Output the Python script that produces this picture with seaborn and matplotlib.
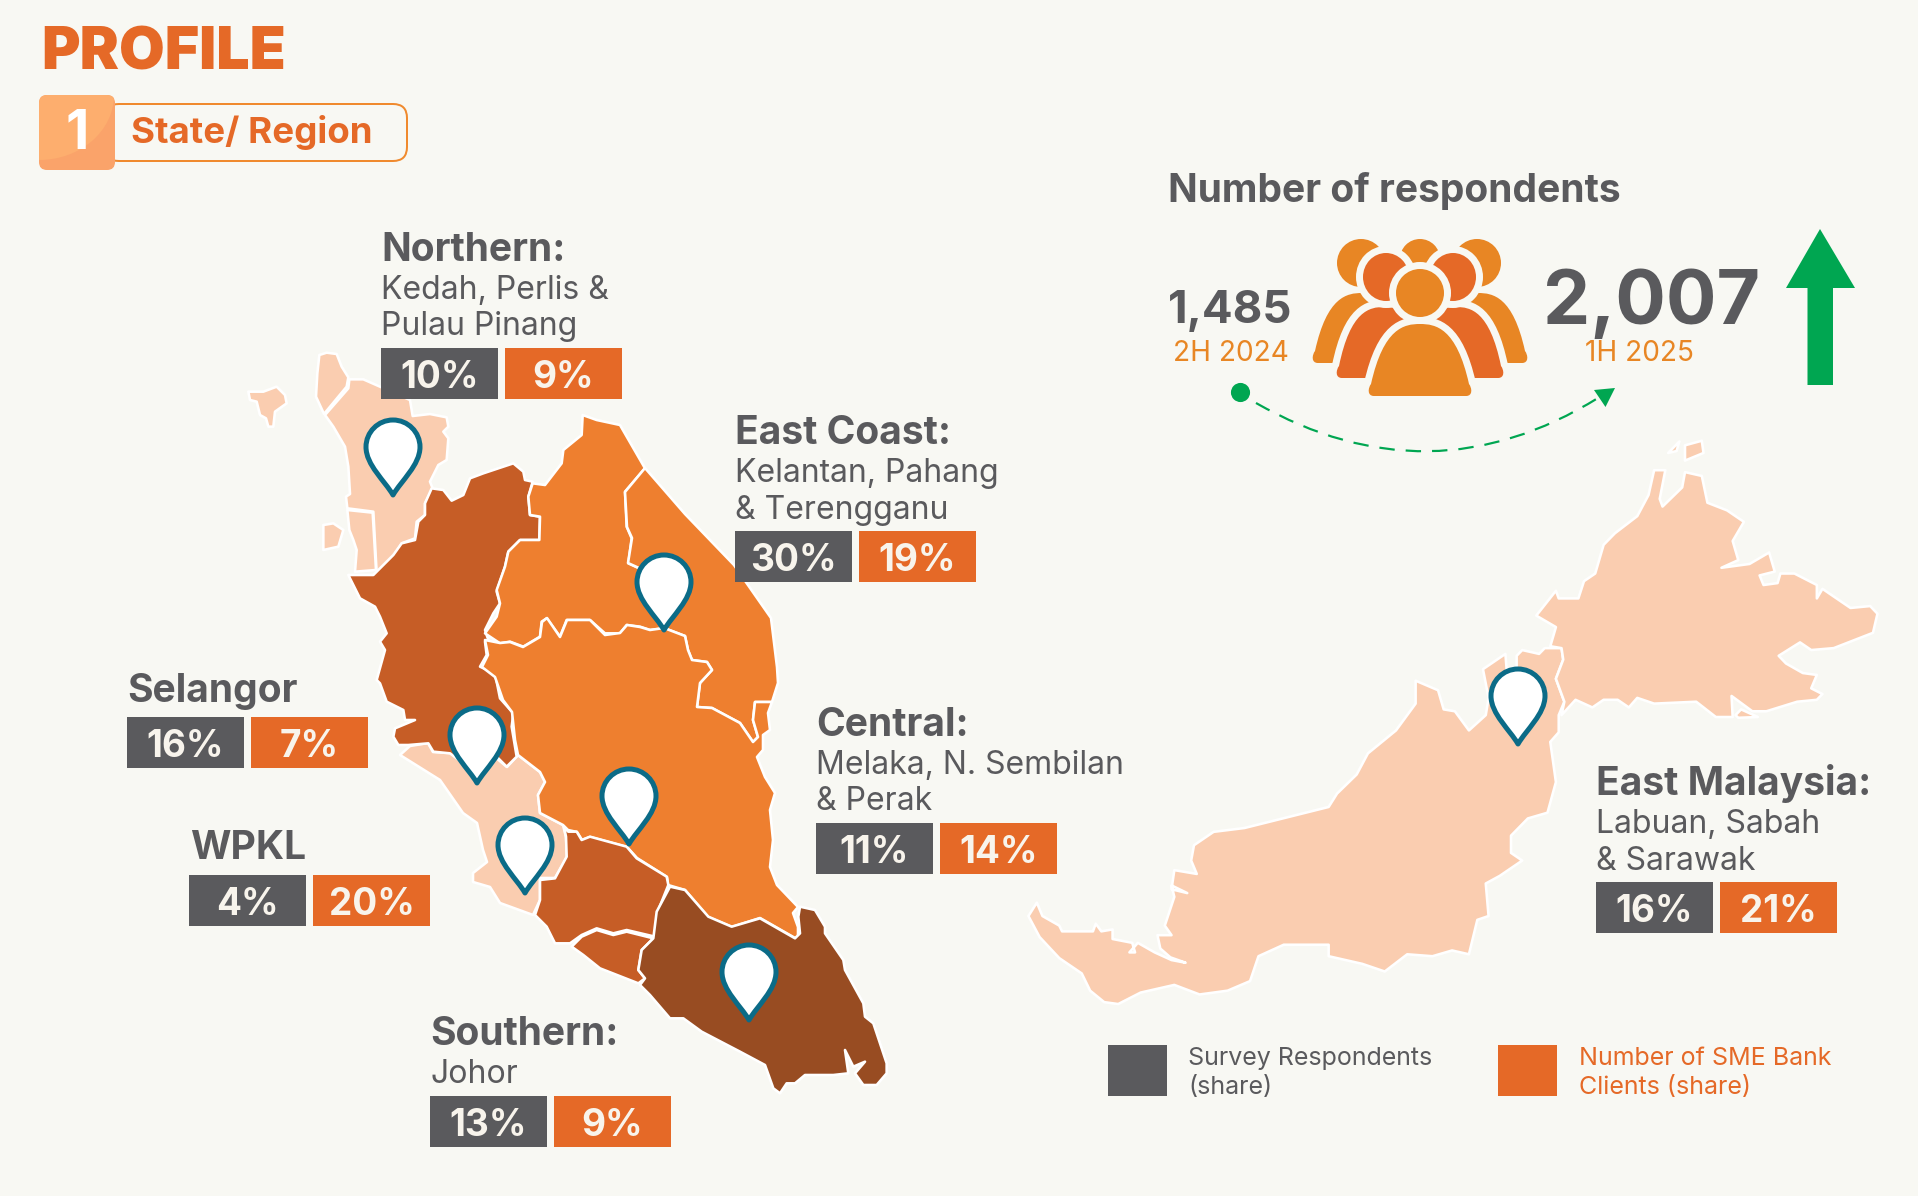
import numpy as np
import matplotlib
matplotlib.use("Agg")
import matplotlib.pyplot as plt
from matplotlib.patches import Polygon, PathPatch, FancyBboxPatch, Ellipse
from matplotlib.path import Path
import seaborn as sns

# shares read from the tiles
regions = ["Northern:", "East Coast:", "Selangor", "WPKL", "Central:", "Southern:", "East Malaysia:"]
details = [["Kedah, Perlis &", "Pulau Pinang"], ["Kelantan, Pahang", "& Terengganu"], [], [],
           ["Melaka, N. Sembilan", "& Perak"], ["Johor"], ["Labuan, Sabah", "& Sarawak"]]
survey_share = [10, 30, 16, 4, 11, 13, 16]
client_share = [9, 19, 7, 20, 14, 9, 21]
periods = ["2H 2024", "1H 2025"]
respondents = [1485, 2007]
legend_labels = [["Survey Respondents", "(share)"], ["Number of SME Bank", "Clients (share)"]]

BG = "#F8F8F3"
GRAY = "#5A5A5D"
ORANGE = "#E56927"
AMBER = "#E88624"
GREEN = "#00A651"
TEAL = "#0B6B87"
LIGHT = "#FACDB0"
EAST = "#EE7F2F"
MID = "#C65D26"
DARK = "#984C22"
FONT = "Inter"

sns.set_theme(style="white", rc={"figure.facecolor": BG, "axes.facecolor": BG})
plt.rcParams["font.family"] = [FONT, "DejaVu Sans"]

fig = plt.figure(figsize=(19.18, 11.96), dpi=100)
ax = fig.add_axes([0, 0, 1, 1])


def px(n):
    return n * 0.72


def z1(pts):
    return np.array(pts) / 3 + [230, 340]


def z2(pts):
    return np.array(pts) / 3 + [440, 640]


def z3(pts):
    return np.array(pts) / [1.782, 2.613] + [1020, 430]


def land(pts, color):
    ax.add_patch(Polygon(pts, closed=True, facecolor=color, edgecolor="white",
                         linewidth=px(2.6), joinstyle="round", zorder=2))


# northern
land(z1([(268,45),(290,38),(320,42),(335,80),(355,112),(350,140),(282,222),(258,170),(262,100)]), LIGHT)
land(z1([(358,118),(400,118),(450,140),(540,180),(548,228),(600,222),(650,232),(655,260),(640,275),(655,295),
         (650,360),(625,375),(600,425),(608,445),(585,490),(585,525),(560,545),(555,595),(515,610),(490,650),
         (440,700),(430,515),(352,505),(348,470),(360,462),(355,380),(345,320),(310,260),(285,225),(355,145)]), LIGHT)
land(z1([(352,510),(428,518),(438,690),(375,695),(380,630),(370,600),(358,570)]), LIGHT)
land(z1([(55,155),(100,155),(140,140),(165,165),(170,190),(135,215),(130,260),(115,260),(108,235),(90,225),(80,185),(60,180)]), LIGHT)
land(z1([(280,555),(310,550),(340,570),(325,620),(280,630)]), LIGHT)

# selangor + wpkl area
land([(410,746),(428,743),(433,752),(450,753),(495,757),(507,767),(518,755),(540,772),(545,782),(538,795),
      (540,813),(563,825),(566,837),(567,857),(555,878),(540,878),(540,900),(533,915),(500,903),(490,887),
      (473,882),(473,873),(487,862),(483,850),(477,823),(463,813),(440,780),(400,755)], LIGHT)

# perak
land(z1([(355,705),(430,705),(490,645),(515,610),(555,600),(565,545),(585,525),(585,490),(605,445),(640,450),
         (665,482),(700,465),(720,415),(760,400),(850,370),(880,395),(885,420),(908,425),(895,470),(900,525),
         (930,530),(928,600),(870,600),(835,635),(825,680),(800,755),(810,790),(790,820),(765,870),(775,900),
         (765,905),(770,945),(750,980),(795,1000),(810,1075),(850,1120),(845,1160),(860,1250),(830,1280),
         (800,1250),(700,1270),(660,1240),(610,1235),(595,1210),(535,1215),(505,1215),(490,1190),(495,1165),
         (555,1140),(525,1140),(520,1110),(470,1085),(450,1030),(440,1020),(465,930),(450,905),(470,880),
         (450,830),(435,800),(390,775)]), MID)

# kelantan, pahang, terengganu
land(z1([(908,430),(945,435),(995,370),(1000,330),(1055,285),(1058,225),(1100,240),(1170,255),(1245,385),
         (1185,455),(1190,560),(1205,595),(1195,670),(1260,700),(1275,780),(1302,865),(1260,870),(1230,860),
         (1190,855),(1170,880),(1125,880),(1080,840),(1050,840),(1010,840),(990,890),(950,835),(935,845),
         (930,890),(880,920),(840,905),(810,910),(765,880),(800,830),(810,790),(800,750),(825,680),(835,635),
         (870,600),(928,600),(930,530),(900,525),(895,470)]), EAST)
land([(645,468),(685,514),(734,565),(771,618),(777,667),(778,683),(772,702),(755,702),(753,720),(758,737),
      (753,742),(740,723),(712,708),(697,707),(700,683),(712,670),(707,662),(692,660),(688,650),(685,636),
      (664,628),(650,573),(628,563),(632,538),(627,527),(625,492)], EAST)
land([(485,640),(500,643),(510,642),(523,647),(540,637),(542,622),(547,618),(560,637),(567,620),(580,620),
      (590,620),(605,635),(620,633),(627,625),(640,627),(650,630),(664,628),(685,636),(688,650),(692,660),
      (707,662),(712,670),(700,683),(697,707),(712,708),(740,723),(753,742),(758,737),(753,720),(755,702),
      (772,702),(768,713),(770,730),(763,735),(763,750),(757,757),(765,777),(775,793),(770,810),(773,840),
      (770,867),(777,885),(798,907),(793,913),(798,927),(798,937),(795,938),(760,918),(732,927),(708,917),
      (685,890),(668,885),(667,877),(637,858),(627,847),(590,837),(582,840),(577,832),(568,830),(563,825),
      (540,813),(538,795),(545,782),(540,772),(518,755),(515,740),(512,712),(503,700),(495,677),(482,667),
      (488,655)], EAST)

# negeri sembilan, melaka, johor
land(z2([(372,560),(385,575),(410,575),(425,600),(450,590),(560,620),(590,655),(680,710),(685,735),(655,810),
         (645,890),(560,870),(520,880),(470,865),(425,885),(390,910),(345,910),(320,860),(285,825),(300,780),
         (300,720),(345,715),(380,650),(378,590)]), MID)
land(z2([(395,920),(425,890),(470,870),(520,885),(560,875),(640,895),(605,930),(595,990),(615,1015),(595,1030),
         (480,985),(430,945)]), MID)
land(z2([(690,740),(735,750),(805,830),(875,860),(960,835),(1065,895),(1080,880),(1075,830),(1080,800),(1125,810),
         (1155,860),(1155,880),(1210,960),(1215,990),(1270,1090),(1275,1130),(1300,1150),(1340,1270),(1340,1300),
         (1310,1335),(1270,1335),(1245,1300),(1275,1265),(1240,1280),(1215,1230),(1225,1300),(1180,1305),(1095,1305),
         (1065,1330),(1040,1330),(1020,1360),(1000,1345),(975,1275),(900,1235),(785,1175),(730,1135),(690,1135),
         (630,1065),(600,1035),(615,1015),(595,990),(605,930),(640,895),(650,815)]), DARK)

# sarawak, sabah and the small islands
land(z3([(15,1270),(30,1235),(40,1270),(70,1295),(75,1310),(130,1310),(135,1290),(145,1310),(165,1305),(165,1330),
         (200,1340),(205,1365),(195,1365),(210,1340),(240,1365),(270,1385),(295,1392),(268,1378),(250,1355),
         (245,1320),(270,1320),(258,1295),(275,1220),(270,1190),(298,1210),(270,1200),(275,1150),(315,1160),
         (305,1125),(310,1085),(345,1050),(400,1040),(550,985),(565,950),(600,900),(620,845),(670,785),(705,715),
         (705,655),(745,680),(755,730),(775,735),(800,785),(830,745),(835,700),(825,625),(865,585),(868,640),
         (885,640),(885,590),(895,575),(925,585),(935,570),(965,570),(968,600),(955,650),(970,710),(960,745),
         (960,790),(945,815),(955,920),(940,1000),(905,1015),(875,1060),(875,1105),(895,1125),(855,1165),(830,1185),
         (835,1270),(815,1280),(800,1370),(770,1360),(735,1375),(690,1370),(650,1415),(610,1395),(550,1375),
         (550,1345),(470,1345),(425,1375),(410,1440),(370,1465),(320,1475),(275,1450),(215,1470),(175,1500),
         (150,1495),(125,1465),(110,1420),(70,1380),(35,1325)]), LIGHT)
land(z3([(945,565),(955,515),(920,485),(955,420),(960,440),(995,440),(1005,395),(1025,375),(1040,300),(1060,270),
         (1100,225),(1120,170),(1130,105),(1150,105),(1140,180),(1145,200),(1180,150),(1185,110),(1215,120),
         (1225,190),(1260,210),(1290,240),(1270,290),(1280,340),(1250,360),(1300,350),(1335,320),(1345,370),
         (1318,380),(1325,405),(1350,400),(1355,375),(1380,375),(1420,405),(1420,440),(1430,415),(1480,465),
         (1515,460),(1528,480),(1520,530),(1450,570),(1410,575),(1390,555),(1352,590),(1365,610),(1395,635),
         (1420,640),(1410,675),(1430,690),(1420,705),(1385,710),(1330,735),(1305,735),(1268,695),(1270,750),
         (1240,750),(1205,710),(1130,715),(1100,700),(1085,725),(1065,705),(1040,705),(1020,725),(990,705),
         (965,745),(970,710),(955,650),(968,600),(965,570)]), LIGHT)
land(z3([(1185,40),(1215,28),(1218,60),(1185,80)]), LIGHT)
land(z3([(1155,60),(1175,30),(1170,55)]), LIGHT)
land(z3([(1275,745),(1285,730),(1315,750),(1280,752)]), LIGHT)


def pin(tip_x, tip_y):
    k = 0.5523 * 27
    cy = tip_y - 48
    verts = [(tip_x, tip_y),
             (tip_x - 8, tip_y - 14), (tip_x - 27, tip_y - 30), (tip_x - 27, cy),
             (tip_x - 27, cy - k), (tip_x - k, cy - 27), (tip_x, cy - 27),
             (tip_x + k, cy - 27), (tip_x + 27, cy - k), (tip_x + 27, cy),
             (tip_x + 27, tip_y - 30), (tip_x + 8, tip_y - 14), (tip_x, tip_y),
             (tip_x, tip_y)]
    codes = [Path.MOVETO] + [Path.CURVE4] * 12 + [Path.CLOSEPOLY]
    ax.add_patch(PathPatch(Path(verts, codes), facecolor="white", edgecolor=TEAL,
                           linewidth=px(5), joinstyle="round", zorder=4))


for tip in [(393, 495), (664, 630), (477, 783), (629, 844), (525, 893), (749, 1020), (1518, 744)]:
    pin(*tip)

# tiles and labels, one block per region
head_pos = [(381, 261), (735, 444), (127, 702), (190, 859), (816, 736), (430, 1045), (1596, 795)]
tile_pos = [(381, 348), (735, 531), (127, 717), (189, 875), (816, 823), (430, 1096), (1596, 882)]
TILE_W, TILE_H, TILE_STEP = 117, 51, 124


def tile(x, y, share, color):
    ax.add_patch(plt.Rectangle((x, y), TILE_W, TILE_H, facecolor=color, edgecolor="none", zorder=5))
    ax.text(x + TILE_W / 2, y + 40, f"{share}%", color="#F8F4EC", fontsize=px(37), fontweight="bold",
            ha="center", va="baseline", zorder=6)


for i, name in enumerate(regions):
    hx, hy = head_pos[i]
    ax.text(hx, hy, name, color=GRAY, fontsize=px(39), fontweight="bold", va="baseline", zorder=6)
    for j, line in enumerate(details[i]):
        ax.text(hx, hy + 38 + j * 36.5, line, color=GRAY, fontsize=px(32), va="baseline", zorder=6)
    tx, ty = tile_pos[i]
    tile(tx, ty, survey_share[i], GRAY)
    tile(tx + TILE_STEP, ty, client_share[i], ORANGE)

# header
ax.text(41, 69, "PROFILE", color=ORANGE, fontsize=px(59), fontweight="black", va="baseline")
ax.add_patch(FancyBboxPatch((105, 104), 302, 57, boxstyle="round,pad=0,rounding_size=14", facecolor="none",
                            edgecolor="#F08A2E", linewidth=px(2)))
badge = FancyBboxPatch((39, 95), 76, 75, boxstyle="round,pad=0,rounding_size=8", facecolor="#FAA36A",
                       edgecolor="none", zorder=3)
ax.add_patch(badge)
shine = Ellipse((39, 95), 150, 130, facecolor="#FDAE6E", edgecolor="none", zorder=3)
ax.add_patch(shine)
shine.set_clip_path(badge)
ax.text(77, 149, "1", color="white", fontsize=px(54), fontweight="bold", ha="center", va="baseline", zorder=4)
ax.text(131, 143, "State/ Region", color=ORANGE, fontsize=px(36.7), fontweight="bold", va="baseline")

# respondents block
ax.text(1168, 202, "Number of respondents", color=GRAY, fontsize=px(39), fontweight="bold", va="baseline")
ax.text(1168, 323, f"{respondents[0]:,}", color=GRAY, fontsize=px(45.5), fontweight="bold", va="baseline")
ax.text(1543, 324, f"{respondents[1]:,}", color=GRAY, fontsize=px(75), fontweight="bold", va="baseline")
ax.text(1173, 361, periods[0], color=AMBER, fontsize=px(28), va="baseline")
ax.text(1585, 361, periods[1], color=AMBER, fontsize=px(28), va="baseline")


def body(cx, halfw, top, bottom, color, edge=None):
    w = halfw
    h = bottom - top
    verts = [(cx - w + 6, bottom), (cx - w - 1, bottom), (cx - w, bottom - 8),
             (cx - w + 3, bottom - 12), (cx - w * 0.7, top + h * 0.05), (cx - w * 0.3, top), (cx, top),
             (cx + w * 0.3, top), (cx + w * 0.7, top + h * 0.05), (cx + w - 3, bottom - 12),
             (cx + w, bottom - 8), (cx + w + 1, bottom), (cx + w - 6, bottom), (cx - w + 6, bottom)]
    codes = [Path.MOVETO] + [Path.CURVE4] * 12 + [Path.CLOSEPOLY]
    ax.add_patch(PathPatch(Path(verts, codes), facecolor=color, edgecolor=edge or "none",
                           linewidth=px(14) if edge else 0, zorder=3))


def head(cx, cy, w, h, color, ring=False):
    if ring:
        ax.add_patch(Ellipse((cx, cy), w + 14, h + 14, facecolor=BG, edgecolor="none", zorder=3))
    ax.add_patch(Ellipse((cx, cy), w, h, facecolor=color, edgecolor="none", zorder=3))


body(1362, 50, 293, 363, AMBER)
body(1478, 50, 293, 363, AMBER)
head(1361, 263, 48, 48, AMBER)
head(1477, 263, 48, 48, AMBER)
head(1420, 259, 40, 40, AMBER)
body(1384, 48, 307, 378, ORANGE, BG)
body(1384, 48, 307, 378, ORANGE)
body(1456, 48, 307, 378, ORANGE, BG)
body(1456, 48, 307, 378, ORANGE)
head(1386, 277, 46, 48, ORANGE, ring=True)
head(1453, 277, 46, 48, ORANGE, ring=True)
body(1420, 52, 324, 396, AMBER, BG)
body(1420, 52, 324, 396, AMBER)
head(1420, 293, 48, 48, AMBER, ring=True)

# growth arrow and dashed arc
ax.add_patch(Polygon([(1820, 229), (1855, 288), (1833, 288), (1833, 385), (1807.5, 385), (1807.5, 288), (1786, 288)],
                     closed=True, facecolor=GREEN, edgecolor="none"))
sns.scatterplot(x=[1239.5], y=[392], color=GREEN, s=190, linewidth=0, ax=ax, zorder=3)
arc = Path([(1256, 403), (1430, 502), (1598, 398)], [Path.MOVETO, Path.CURVE3, Path.CURVE3])
ax.add_patch(PathPatch(arc, facecolor="none", edgecolor=GREEN, linewidth=px(2.2), linestyle=(0, (7, 5))))
ax.add_patch(Polygon([(1594, 390), (1615, 388), (1605.5, 407)], closed=True, facecolor=GREEN, edgecolor="none"))

# legend
for x, color, text_x, text_color, lines in [(1108, GRAY, 1188, GRAY, legend_labels[0]),
                                            (1498, ORANGE, 1579, ORANGE, legend_labels[1])]:
    ax.add_patch(plt.Rectangle((x, 1045), 59, 51, facecolor=color, edgecolor="none"))
    for j, line in enumerate(lines):
        ax.text(text_x, 1065 + j * 29, line, color=text_color, fontsize=px(25), va="baseline")

ax.set_xlim(0, 1918)
ax.set_ylim(1196, 0)
ax.axis("off")
fig.savefig("out.png", dpi=100, facecolor=BG)
